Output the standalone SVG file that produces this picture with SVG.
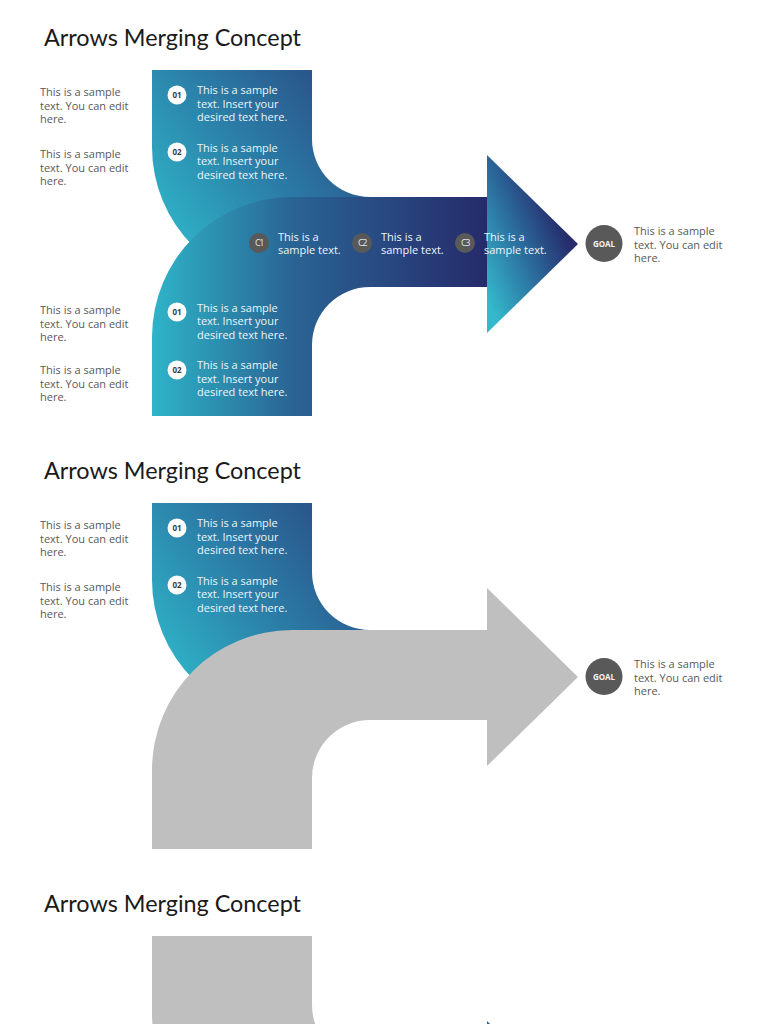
<svg xmlns="http://www.w3.org/2000/svg" width="768" height="1024" viewBox="0 0 768 1024">
<style>
.title{font-family:Lato,"Liberation Sans",sans-serif;font-size:24px;fill:#1a1a1a}
.side{font-family:"Open Sans","Noto Sans",sans-serif;font-size:11px;fill:#595959}
.arm{font-family:"Open Sans","Noto Sans",sans-serif;font-size:11px;fill:#eef5f8}
.num{font-family:"Open Sans","Noto Sans",sans-serif;font-size:8px;font-weight:bold;fill:#3a3a3a;text-anchor:middle}
.cnum{font-family:"Open Sans","Noto Sans",sans-serif;font-size:9px;fill:#e6e6e6;text-anchor:middle;letter-spacing:-1.5px}
.goal{font-family:"Open Sans","Noto Sans",sans-serif;font-size:8px;font-weight:bold;fill:#f2f2f2;text-anchor:middle}
.wc{fill:#ffffff}
.dc{fill:#595959}
.gray{fill:#bfbfbf}
</style>
<defs>
<linearGradient id="gTop" gradientUnits="userSpaceOnUse" x1="152" y1="230" x2="330" y2="100">
<stop offset="0" stop-color="#2fb7ca"/><stop offset="0.6" stop-color="#2b7aa5"/><stop offset="1" stop-color="#2a568b"/>
</linearGradient>
<linearGradient id="gBot" gradientUnits="userSpaceOnUse" x1="152" y1="300" x2="487" y2="300">
<stop offset="0" stop-color="#2eb4c8"/><stop offset="0.42" stop-color="#2a6494"/><stop offset="1" stop-color="#262a6b"/>
</linearGradient>
<linearGradient id="gHead" gradientUnits="userSpaceOnUse" x1="487" y1="300" x2="578" y2="260">
<stop offset="0" stop-color="#34b9cc"/><stop offset="0.55" stop-color="#2b6a9c"/><stop offset="1" stop-color="#262b6a"/>
</linearGradient>
</defs>

<!-- Section 1 -->
<text class="title" x="44" y="46" textLength="257" lengthAdjust="spacingAndGlyphs">Arrows Merging Concept</text>
<g id="top-arm-1">
<path fill="url(#gTop)" d="M152,70 H312 V139 A58,58 0 0 0 370,197 H400 V287 H292 A140,140 0 0 1 152,147 Z"/>
</g>
<g id="bottom-arm-1">
<path fill="url(#gBot)" d="M152,416 V337 A140,140 0 0 1 292,197 H490 V287 H370 A58,58 0 0 0 312,345 V416 Z"/>
</g>
<g id="head-1">
<path fill="url(#gHead)" d="M487,155 L578,244 L487,333 Z"/>
</g>
<g id="t1-01">
<text class="side"><tspan x="40" y="96">This is a sample</tspan><tspan x="40" y="109.5">text. You can edit</tspan><tspan x="40" y="123">here.</tspan></text>
<circle class="wc" cx="177" cy="95" r="9.5"/><text class="num" x="177" y="97.8">01</text>
<text class="arm"><tspan x="197" y="94">This is a sample</tspan><tspan x="197" y="107.5">text. Insert your</tspan><tspan x="197" y="121">desired text here.</tspan></text>
</g>
<g id="t1-02">
<text class="side"><tspan x="40" y="158">This is a sample</tspan><tspan x="40" y="171.5">text. You can edit</tspan><tspan x="40" y="185">here.</tspan></text>
<circle class="wc" cx="177" cy="152" r="9.5"/><text class="num" x="177" y="154.8">02</text>
<text class="arm"><tspan x="197" y="151.5">This is a sample</tspan><tspan x="197" y="165">text. Insert your</tspan><tspan x="197" y="178.5">desired text here.</tspan></text>
</g>
<g id="b1-01">
<text class="side"><tspan x="40" y="314">This is a sample</tspan><tspan x="40" y="327.5">text. You can edit</tspan><tspan x="40" y="341">here.</tspan></text>
<circle class="wc" cx="177" cy="312" r="9.5"/><text class="num" x="177" y="314.8">01</text>
<text class="arm"><tspan x="197" y="311.5">This is a sample</tspan><tspan x="197" y="325">text. Insert your</tspan><tspan x="197" y="338.5">desired text here.</tspan></text>
</g>
<g id="b1-02">
<text class="side"><tspan x="40" y="374">This is a sample</tspan><tspan x="40" y="387.5">text. You can edit</tspan><tspan x="40" y="401">here.</tspan></text>
<circle class="wc" cx="177" cy="370" r="9.5"/><text class="num" x="177" y="372.8">02</text>
<text class="arm"><tspan x="197" y="369">This is a sample</tspan><tspan x="197" y="382.5">text. Insert your</tspan><tspan x="197" y="396">desired text here.</tspan></text>
</g>
<g id="c1">
<circle class="dc" cx="259" cy="243" r="10"/><text class="cnum" x="259" y="246.2">C1</text>
<text class="arm"><tspan x="278" y="240.5">This is a</tspan><tspan x="278" y="254">sample text.</tspan></text>
</g>
<g id="c2">
<circle class="dc" cx="362" cy="243" r="10"/><text class="cnum" x="362" y="246.2">C2</text>
<text class="arm"><tspan x="381" y="240.5">This is a</tspan><tspan x="381" y="254">sample text.</tspan></text>
</g>
<g id="c3">
<circle class="dc" cx="465" cy="243" r="10"/><text class="cnum" x="465" y="246.2">C3</text>
<text class="arm"><tspan x="484" y="240.5">This is a</tspan><tspan x="484" y="254">sample text.</tspan></text>
</g>
<g id="goal-1">
<circle class="dc" cx="604" cy="243.5" r="18.5"/><text class="goal" x="604" y="246.5">GOAL</text>
<text class="side"><tspan x="634" y="235">This is a sample</tspan><tspan x="634" y="248.5">text. You can edit</tspan><tspan x="634" y="262">here.</tspan></text>
</g>

<!-- Section 2 -->
<text class="title" x="44" y="479" textLength="257" lengthAdjust="spacingAndGlyphs">Arrows Merging Concept</text>
<g id="top-arm-2" transform="translate(0,433)">
<path fill="url(#gTop)" d="M152,70 H312 V139 A58,58 0 0 0 370,197 H400 V287 H292 A140,140 0 0 1 152,147 Z"/>
</g>
<g id="bottom-arrow-2" transform="translate(0,433)">
<path class="gray" d="M152,416 V337 A140,140 0 0 1 292,197 H487 V155 L578,244 L487,333 V287 H370 A58,58 0 0 0 312,345 V416 Z"/>
</g>
<g id="t2-01">
<text class="side"><tspan x="40" y="529">This is a sample</tspan><tspan x="40" y="542.5">text. You can edit</tspan><tspan x="40" y="556">here.</tspan></text>
<circle class="wc" cx="177" cy="528" r="9.5"/><text class="num" x="177" y="530.8">01</text>
<text class="arm"><tspan x="197" y="527">This is a sample</tspan><tspan x="197" y="540.5">text. Insert your</tspan><tspan x="197" y="554">desired text here.</tspan></text>
</g>
<g id="t2-02">
<text class="side"><tspan x="40" y="591">This is a sample</tspan><tspan x="40" y="604.5">text. You can edit</tspan><tspan x="40" y="618">here.</tspan></text>
<circle class="wc" cx="177" cy="585" r="9.5"/><text class="num" x="177" y="587.8">02</text>
<text class="arm"><tspan x="197" y="584.5">This is a sample</tspan><tspan x="197" y="598">text. Insert your</tspan><tspan x="197" y="611.5">desired text here.</tspan></text>
</g>
<g id="goal-2">
<circle class="dc" cx="604" cy="676.5" r="18.5"/><text class="goal" x="604" y="679.5">GOAL</text>
<text class="side"><tspan x="634" y="668">This is a sample</tspan><tspan x="634" y="681.5">text. You can edit</tspan><tspan x="634" y="695">here.</tspan></text>
</g>

<!-- Section 3 -->
<text class="title" x="44" y="912" textLength="257" lengthAdjust="spacingAndGlyphs">Arrows Merging Concept</text>
<g id="top-arm-3" transform="translate(0,866)">
<path class="gray" d="M152,70 H312 V139 A58,58 0 0 0 370,197 H400 V287 H292 A140,140 0 0 1 152,147 Z"/>
</g>
<g id="head-3" transform="translate(0,866)">
<path fill="url(#gHead)" d="M487,155 L578,244 L487,333 Z"/>
</g>
<g id="connectors"></g>
</svg>
